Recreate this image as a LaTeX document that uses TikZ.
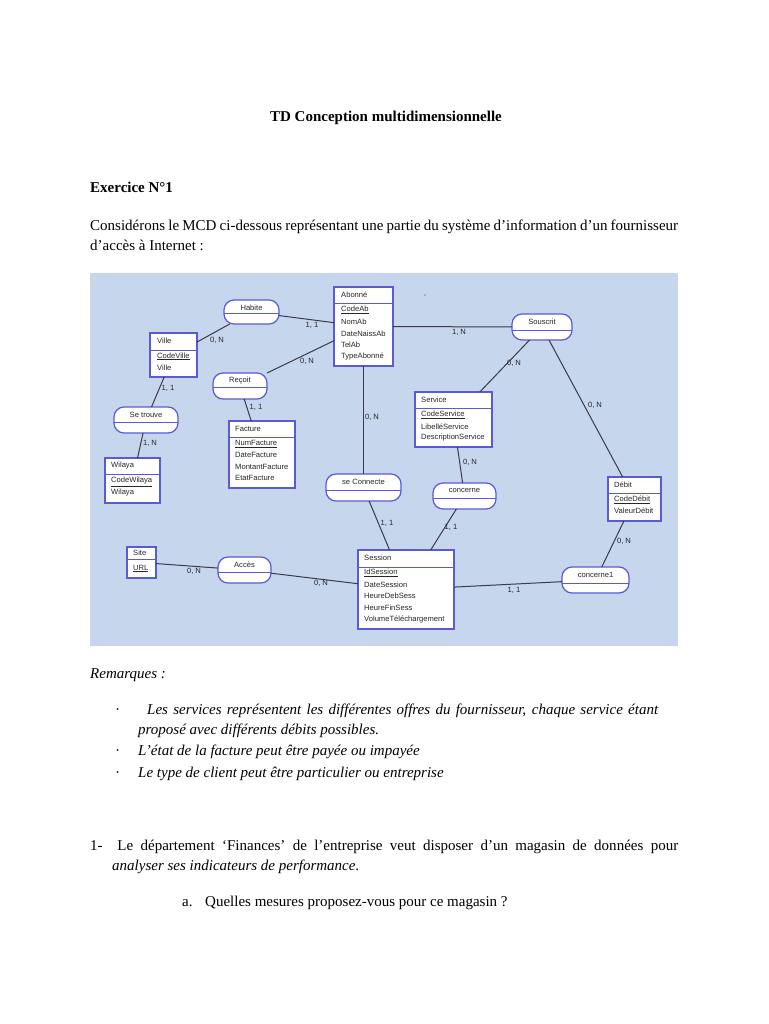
\documentclass[tikz,border=0pt]{standalone}
\usepackage{fontspec}
\setmainfont{Liberation Serif}
\newfontfamily\diafont{Liberation Sans}
\definecolor{bgc}{HTML}{C6D6EC}
\definecolor{bordc}{HTML}{5A5AD2}
\definecolor{linkc}{HTML}{3A3A48}
\definecolor{dtextc}{HTML}{262626}
\newcommand\entbox[6]{%
  \node[ent, minimum width={#4-#2}, minimum height={#5-#3}] (#1) at ({(#2+#4)/2},{(#3+#5)/2}) {};
  \draw[divl] (#2,{#3+#6}) -- (#4,{#3+#6});
}
\newcommand\ascbox[7]{%
  \node[asc, minimum width={#4-#2}, minimum height={#5-#3}] (#1) at ({(#2+#4)/2},{(#3+#5)/2}) {};
  \draw[divl] (#2,{#3+#6}) -- (#4,{#3+#6});
  \node[dtxt, anchor=center] at ({(#2+#4)/2},{#3+7.5}) {#7};
}
\newcommand\attrs[4]{%
  \foreach \t [count=\i from 0] in {#4} { \node[dtxt] at (#1, {#2+\i*#3}) {\t}; }
}
\begin{document}
\begin{tikzpicture}[x=1pt,y=-1pt,
  ent/.style={draw=bordc, fill=white, line width=1.2pt, inner sep=0pt, outer sep=0pt, rectangle},
  asc/.style={draw=bordc, fill=white, line width=1.2pt, inner sep=0pt, outer sep=0pt, rectangle, rounded corners=10pt},
  divl/.style={draw=bordc, line width=1pt},
  link/.style={draw=linkc, line width=1pt},
  dtxt/.style={font=\diafont\fontsize{7.6}{9}\selectfont, text=dtextc, inner sep=0pt, anchor=west},
  card/.style={font=\diafont\fontsize{7.6}{9}\selectfont, text=dtextc, inner sep=0pt},
  body/.style={font=\fontsize{15}{20}\selectfont, inner sep=0pt, anchor=base west},
]
\useasboundingbox (0,0) rectangle (768,1024);
\fill[white] (0,0) rectangle (768,1024);

% ---------- text above ----------
\node[body, anchor=base] (title) at (386,122) {\bfseries TD Conception multidimensionnelle};
\node[body] (exo) at (90,193) {\bfseries Exercice N°1};
\node[body] (p1) at (90,231) {\makebox[588pt][s]{Considérons le MCD ci-dessous représentant une partie du système d’information d’un fournisseur}};
\node[body] (p2) at (90,251) {d’accès à Internet :};

% ---------- diagram ----------
\fill[bgc] (90,273) rectangle (678,646);
\fill[linkc] (425,295) circle (0.7);

% entities
\entbox{abonne}{334}{287}{393}{366}{16}
\node[dtxt] at (341,295) {Abonné};
\attrs{341}{310}{11.7}{\underline{CodeAb},NomAb,DateNaissAb,TelAb,TypeAbonné}

\entbox{ville}{150}{333}{197}{377}{17}
\node[dtxt] at (157,341) {Ville};
\attrs{157}{356.5}{11}{\underline{CodeVille},Ville}

\entbox{wilaya}{105}{458}{160}{503}{16}
\node[dtxt] at (111,466) {Wilaya};
\attrs{111}{482}{11}{\underline{CodeWilaya},Wilaya}

\entbox{facture}{229}{421}{295}{488}{16}
\node[dtxt] at (235,428.5) {Facture};
\attrs{235}{444}{11.3}{\underline{NumFacture},DateFacture,MontantFacture,EtatFacture}

\entbox{service}{415}{392}{492}{447}{16}
\node[dtxt] at (421,399.5) {Service};
\attrs{421}{415}{11.5}{\underline{CodeService},LibelléService,DescriptionService}

\entbox{debit}{608}{477}{661}{521}{16}
\node[dtxt] at (614,484.5) {Débit};
\attrs{614}{499.5}{11.5}{\underline{CodeDébit},ValeurDébit}

\entbox{session}{358}{550}{454}{629}{17}
\node[dtxt] at (364,557.5) {Session};
\attrs{364}{573}{11.5}{\underline{IdSession},DateSession,HeureDebSess,HeureFinSess,VolumeTéléchargement}

\entbox{site}{127}{547}{156}{578}{12}
\node[dtxt] at (133,553) {Site};
\attrs{133}{568.5}{11}{\underline{URL}}

% associations
\ascbox{habite}{224}{300}{279}{324}{13}{Habite}
\ascbox{souscrit}{512}{314}{572}{340}{16}{Souscrit}
\ascbox{recoit}{213}{373}{267}{399}{14}{Reçoit}
\ascbox{setrouve}{114}{407}{178}{433}{15}{Se trouve}
\ascbox{seconnecte}{326}{474}{401}{501}{16}{se Connecte}
\ascbox{concerne}{433}{483}{496}{509}{15}{concerne}
\ascbox{concerneun}{562}{567}{629}{593}{16}{concerne1}
\ascbox{acces}{218}{557}{271}{583}{15}{Accès}

% links
\draw[link] (habite) -- (abonne);
\draw[link] (ville) -- (habite);
\draw[link] (abonne) -- (recoit);
\draw[link] (ville) -- (setrouve);
\draw[link] (setrouve) -- (wilaya);
\draw[link] (recoit) -- (facture);
\draw[link] (abonne) -- (seconnecte);
\draw[link] (abonne) -- (souscrit);
\draw[link] (souscrit) -- (service);
\draw[link] (souscrit) -- (debit);
\draw[link] (service) -- (concerne);
\draw[link] (concerne) -- (session);
\draw[link] (seconnecte) -- (session);
\draw[link] (session) -- (concerneun);
\draw[link] (debit) -- (concerneun);
\draw[link] (site) -- (acces);
\draw[link] (acces) -- (session);

% cardinalities
\node[card] (c1) at (312,325) {1, 1};
\node[card] (c2) at (217,340) {0, N};
\node[card] (c3) at (307,361) {0, N};
\node[card] (c4) at (168,388) {1, 1};
\node[card] (c5) at (150,443) {1, N};
\node[card] (c6) at (256,407) {1, 1};
\node[card] (c7) at (372,417) {0, N};
\node[card] (c8) at (459,332) {1, N};
\node[card] (c9) at (514,363) {0, N};
\node[card] (c10) at (595,405) {0, N};
\node[card] (c11) at (470,462) {0, N};
\node[card] (c12) at (387,523) {1, 1};
\node[card] (c13) at (451,527) {1, 1};
\node[card] (c14) at (624,541) {0, N};
\node[card] (c15) at (514,590) {1, 1};
\node[card] (c16) at (194,571) {0, N};
\node[card] (c17) at (321,583) {0, N};

% ---------- text below ----------
\node[body] (rem) at (90,678) {\itshape Remarques :};
\node[body] (b1) at (115,714) {·};
\node[body] (b2) at (115,755) {·};
\node[body] (b3) at (115,777) {·};
\node[body] (r1) at (147,714) {\itshape\makebox[511pt][s]{Les services représentent les différentes offres du fournisseur, chaque service étant}};
\node[body] (r1b) at (138,734) {\itshape proposé avec différents débits possibles.};
\node[body] (r2) at (138,755) {\itshape L’état de la facture peut être payée ou impayée};
\node[body] (r3) at (138,777) {\itshape Le type de client peut être particulier ou entreprise};
\node[body] (q1) at (90,850) {\makebox[588pt][s]{1-\ \ Le département ‘Finances’ de l’entreprise veut disposer d’un magasin de données pour}};
\node[body] (q1b) at (112,870) {\itshape analyser ses indicateurs de performance\upshape.};
\node[body] (qa) at (182,906) {a.};
\node[body] (qa2) at (205,906) {Quelles mesures proposez-vous pour ce magasin ?};
\end{tikzpicture}
\end{document}
